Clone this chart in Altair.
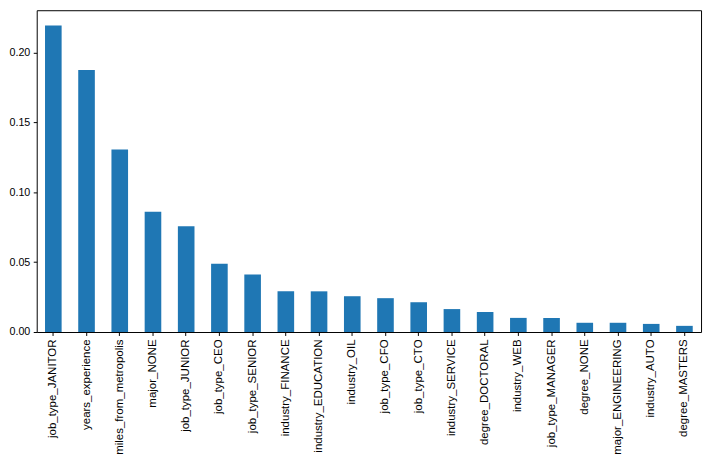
import altair as alt
import pandas as pd

features = [
    "job_type_JANITOR", "years_experience", "miles_from_metropolis", "major_NONE",
    "job_type_JUNIOR", "job_type_CEO", "job_type_SENIOR", "industry_FINANCE",
    "industry_EDUCATION", "industry_OIL", "job_type_CFO", "job_type_CTO",
    "industry_SERVICE", "degree_DOCTORAL", "industry_WEB", "job_type_MANAGER",
    "degree_NONE", "major_ENGINEERING", "industry_AUTO", "degree_MASTERS",
]
importance = [
    0.2192, 0.1875, 0.1305, 0.0861, 0.0756, 0.0488, 0.0411, 0.0291,
    0.0291, 0.0256, 0.0242, 0.0213, 0.0164, 0.0143, 0.0101, 0.0101,
    0.0066, 0.0066, 0.0058, 0.0044,
]

df = pd.DataFrame({"feature": features, "importance": importance})

FONT = "Liberation Sans"

chart = alt.Chart(df).mark_bar(color="#1f77b4").encode(
    x=alt.X(
        "feature:N",
        sort=features,
        title=None,
        scale=alt.Scale(paddingInner=0.5, paddingOuter=0.25),
        axis=alt.Axis(
            labelAngle=270,
            labelAlign="right",
            labelBaseline="middle",
            labelFont=FONT,
            labelFontSize=11.6,
            labelColor="black",
            tickColor="black",
            tickSize=3.5,
            labelPadding=3.5,
            domain=False,
            grid=False,
        ),
    ),
    y=alt.Y(
        "importance:Q",
        title=None,
        scale=alt.Scale(domain=[0, 0.2302], nice=False, zero=True),
        axis=alt.Axis(
            values=[0, 0.05, 0.10, 0.15, 0.20],
            format=".2f",
            labelFont=FONT,
            labelFontSize=10.8,
            labelColor="black",
            tickColor="black",
            tickSize=3.5,
            labelPadding=3.5,
            domain=False,
            grid=False,
        ),
    ),
).properties(
    width=671,
    height=325,
    autosize=alt.AutoSizeParams(type="none"),
    padding={"left": 29, "top": 0, "right": 4, "bottom": 125},
).configure_view(
    stroke="black",
    strokeWidth=1,
)

chart.save("out.html", embed_options={"renderer": "svg", "actions": False})
